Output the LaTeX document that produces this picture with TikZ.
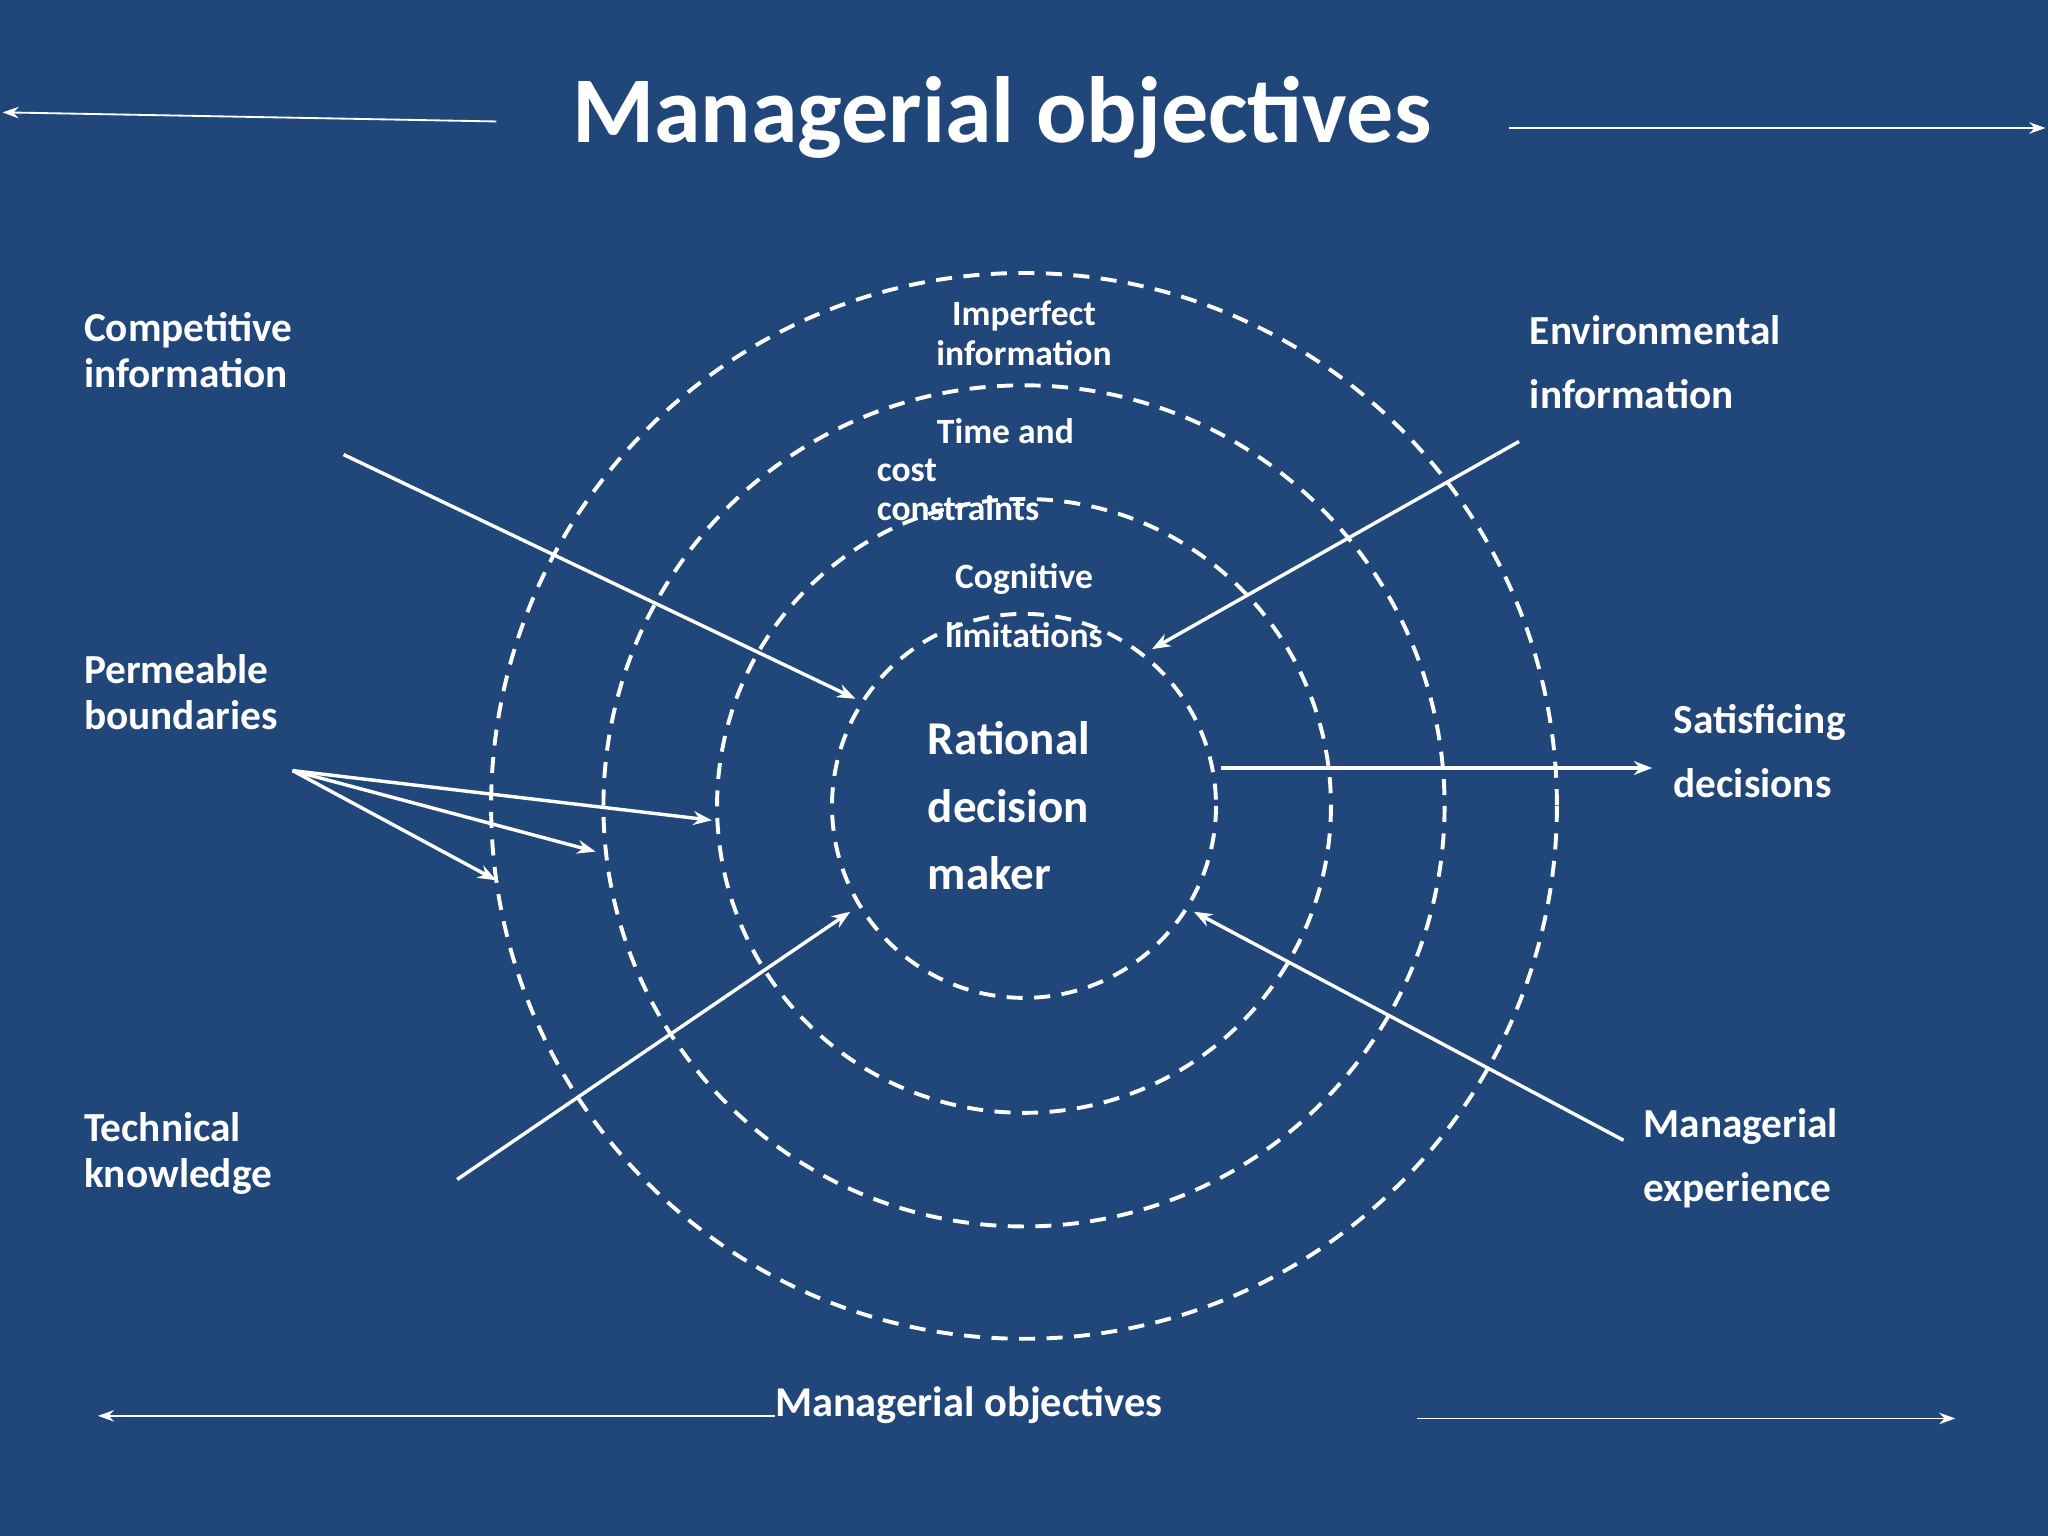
\documentclass[tikz,border=0pt]{standalone}
\usepackage{fontspec}
\setmainfont{Carlito}
\usetikzlibrary{arrows.meta}
\definecolor{bg}{RGB}{33,70,122}
\begin{document}
\begin{tikzpicture}[x=0.02cm,y=-0.02cm,
  lbl/.style={text=white,font=\bfseries\fontsize{18}{20}\selectfont,align=left,inner sep=0pt},
  small/.style={text=white,font=\bfseries\fontsize{15.5}{17.5}\selectfont,align=center,inner sep=0pt},
  ring/.style={white,line width=1.7pt,dash pattern=on 7pt off 5pt},
  arr/.style={white,line width=1.5pt,-{Stealth[length=8pt,width=6pt]}},
  thin/.style={white,line width=0.8pt,-{Stealth[length=7pt,width=5pt]}}]
\fill[bg] (0,0) rectangle (1568,1176);
\useasboundingbox (0,0) rectangle (1568,1176);
\coordinate (c) at (784,617);
\foreach \r in {408,322,235,147} \draw[ring] (c) circle[radius=\r];
\node[text=white,font=\bfseries\fontsize{41}{45}\selectfont,inner sep=0pt] (title) at (767,90) {Managerial objectives};
\coordinate (t1) at (380,93); \coordinate (t2) at (2,86);
\coordinate (t3) at (1155,98); \coordinate (t4) at (1566,98);
\draw[thin] (t1) -- (t2); \draw[thin] (t3) -- (t4);
\node[text=white,font=\bfseries\fontsize{18.5}{20}\selectfont,inner sep=0pt,anchor=west] (bot) at (593,1076) {Managerial objectives};
\coordinate (b2) at (75,1084); \coordinate (b3) at (1085,1086); \coordinate (b4) at (1497,1086);
\draw[thin] (bot.west|-b2) -- (b2); \draw[thin] (b3) -- (b4);
\node[lbl,anchor=west] (comp) at (64,268) {Competitive\\information};
\node[lbl,anchor=west] (env) at (1171,277) {Environmental\\[8pt]information};
\node[lbl,anchor=west] (perm) at (64,530) {Permeable\\boundaries};
\node[lbl,anchor=west] (sat) at (1281,575) {Satisficing\\[8pt]decisions};
\node[lbl,anchor=west] (tech) at (64,883) {Technical\\knowledge};
\node[lbl,anchor=west] (mexp) at (1258,887) {Managerial\\[8pt]experience};
\node[small] (imp) at (784,255) {Imperfect\\information};
\node[small,anchor=west] (time1) at (717,330) {Time and};
\node[small,anchor=west] (time2) at (671,360) {cost};
\node[small,anchor=west] (time3) at (671,389) {constraints};
\node[small] (cog1) at (784,443) {Cognitive};
\node[small] (cog2) at (784,486) {limitations};
\node[text=white,font=\bfseries\fontsize{20.5}{29.5}\selectfont,align=left,inner sep=0pt,anchor=west] (rdm) at (710,617) {Rational\\decision\\maker};
\coordinate (a1) at (263,348); \coordinate (a2) at (655,535);
\draw[arr] (a1) -- (a2);
\coordinate (e1) at (1163,338); \coordinate (e2) at (882,497);
\draw[arr] (e1) -- (e2);
\coordinate (p0) at (224,590);
\coordinate (p1) at (545,628); \coordinate (p2) at (456,652); \coordinate (p3) at (380,674);
\draw[arr] (p0) -- (p1); \draw[arr] (p0) -- (p2); \draw[arr] (p0) -- (p3);
\coordinate (s1) at (935,588); \coordinate (s2) at (1265,588);
\draw[arr] (s1) -- (s2);
\coordinate (k1) at (350,903); \coordinate (k2) at (651,698);
\draw[arr] (k1) -- (k2);
\coordinate (m1) at (1243,873); \coordinate (m2) at (914,698);
\draw[arr] (m1) -- (m2);
\end{tikzpicture}
\end{document}
